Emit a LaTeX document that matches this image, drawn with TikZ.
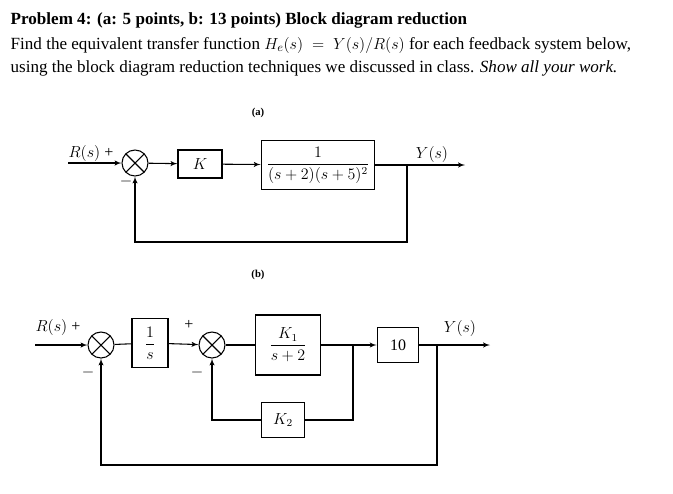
\documentclass[tikz,border=0pt]{standalone}
\usepackage{amsmath}
\usepackage{fontspec}
\setmainfont{Liberation Serif}
\usepackage{tikz}
\usetikzlibrary{shapes,arrows}
\tikzstyle{block} = [rectangle, draw, line width=1pt, inner sep=0pt, font=\large]
\tikzstyle{sum} = [circle, draw, line width=0.8pt, minimum size=19.5pt, inner sep=0pt,
    path picture={\draw (path picture bounding box.north west) -- (path picture bounding box.south east)
    (path picture bounding box.north east) -- (path picture bounding box.south west);}]
\tikzstyle{label} = [font=\large, inner sep=1pt]
\tikzstyle{line} = [draw, line width=0.8pt, -latex']
\tikzstyle{wire} = [draw, line width=0.8pt]
\begin{document}
\begin{tikzpicture}[x=0.75pt, y=-0.75pt]
    \useasboundingbox (0,0) rectangle (673,493);
    % Place header
    \node [anchor=west, font=\bfseries\fontsize{12.8}{15}\selectfont] (title) at (6,20) {Problem 4: (a: 5 points, b: 13 points) Block diagram reduction};
    \node [anchor=west, font=\fontsize{12.8}{15}\selectfont] (line1) at (6,45) {Find the equivalent transfer function $H_e(s)\;=\;Y(s)/R(s)$ for each feedback system below,};
    \node [anchor=west, font=\fontsize{12.8}{15}\selectfont] (line2) at (6,68) {using the block diagram reduction techniques we discussed in class. \textit{Show all your work.}};
    % Part (a)
    \node [font=\bfseries\footnotesize] (laba) at (258,113) {(a)};
    \coordinate (ina) at (68,163);
    \node [sum] (suma) at (135,163) {};
    \node [block, minimum width=33pt, minimum height=21pt, line width=0.8pt] (K) at (200,164) {$K$};
    \node [block, minimum width=85pt, minimum height=37pt] (G) at (318,165) {$\dfrac{1}{(s+2)(s+5)^2}$};
    \coordinate (bra) at (407,165);
    \coordinate (outa) at (465,165);
    \node [label] (Ra) at (91,153) {$R(s)$ +};
    \node [label] (ma) at (126,181) {$-$};
    \node [label] (Ya) at (432,154) {$Y(s)$};
    \path [line] (ina) -- (suma);
    \path [line] (suma) -- (K);
    \path [line] (K) -- (G);
    \path [line] (G) -- (outa);
    \path [line] (bra) -- (407,242) -| (suma);
    % Part (b)
    \node [font=\bfseries\footnotesize] (labb) at (258,275) {(b)};
    \coordinate (inb) at (35,345);
    \node [sum] (sum1) at (101,345) {};
    \node [block, minimum width=27pt, minimum height=37pt] (I) at (150,343) {$\dfrac{1}{s}$};
    \node [sum] (sum2) at (212,345) {};
    \node [block, minimum width=49pt, minimum height=45pt] (K1) at (288,345) {$\dfrac{K_1}{s+2}$};
    \node [block, minimum width=31pt, minimum height=26pt] (ten) at (398,345) {10};
    \node [block, minimum width=32pt, minimum height=26pt] (K2) at (283,420) {$K_2$};
    \coordinate (br1) at (353,345);
    \coordinate (br2) at (437,345);
    \coordinate (outb) at (490,345);
    \node [label] (Rb) at (58,327) {$R(s)$ +};
    \node [label] (pb) at (189,325) {+};
    \node [label] (m1) at (88,372) {$-$};
    \node [label] (m2) at (197,372) {$-$};
    \node [label] (Yb) at (460,328) {$Y(s)$};
    \path [line] (inb) -- (sum1);
    \path [wire] (sum1) -- (I);
    \path [line] (I) -- (sum2);
    \path [wire] (sum2) -- (K1);
    \path [line] (K1) -- (ten);
    \path [line] (ten) -- (outb);
    \path [wire] (br1) |- (K2);
    \path [line] (K2) -| (sum2);
    \path [line] (br2) -- (437,465) -| (sum1);
\end{tikzpicture}
\end{document}
